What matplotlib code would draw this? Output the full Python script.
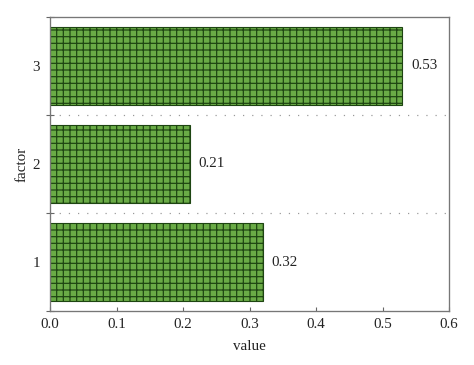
import matplotlib
matplotlib.use("Agg")
import matplotlib.pyplot as plt

factors = [1, 2, 3]
values = [0.32, 0.21, 0.53]
labels = ["0.32", "0.21", "0.53"]
xticks = [0.0, 0.1, 0.2, 0.3, 0.4, 0.5, 0.6]

DPI = 80
plt.rcParams['font.family'] = ['Liberation Serif', 'DejaVu Serif']
plt.rcParams['hatch.linewidth'] = 1.1
plt.rcParams['hatch.color'] = '#1e4512'

fig = plt.figure(figsize=(474 / DPI, 365 / DPI), dpi=DPI)
ax = fig.add_axes([50 / 474, 54 / 365, 399 / 474, 294 / 365])

bars = ax.barh(factors, values, height=0.8, color='#6aab46', edgecolor='#1e4512',
               linewidth=1.0, hatch='++', zorder=2)

FS = 13.5
for f, v, lab in zip(factors, values, labels):
    ax.annotate(lab, xy=(v, f), xytext=(9, 0), textcoords='offset pixels',
                va='center', ha='left', fontsize=FS, color='#222222')

ax.set_xlim(0, 0.6)
ax.set_ylim(0.5, 3.5)
ax.set_xticks(xticks)
ax.set_xticklabels([f"{t:.1f}" for t in xticks])
ax.set_yticks(factors)
ax.set_yticks([0.5, 1.5, 2.5, 3.5], minor=True)

for yb in [1.5, 2.5]:
    ax.axhline(yb, color='#999999', linewidth=1.1, linestyle=(0, (1, 6.5)), zorder=1)

ax.tick_params(axis='x', direction='in', length=4, width=1.0, color='#666666',
               labelsize=FS, labelcolor='#222222', pad=6)
ax.tick_params(axis='y', which='major', length=0, labelsize=FS, labelcolor='#222222', pad=9)
ax.tick_params(axis='y', which='minor', direction='inout', length=8, width=1.0, color='#666666')

for s in ax.spines.values():
    s.set_color('#777777')
    s.set_linewidth(1.2)

ax.set_xlabel('value', fontsize=FS, color='#222222', labelpad=8)
ax.set_ylabel('factor', fontsize=FS, color='#222222', labelpad=3)

fig.savefig('out.png', dpi=DPI)
